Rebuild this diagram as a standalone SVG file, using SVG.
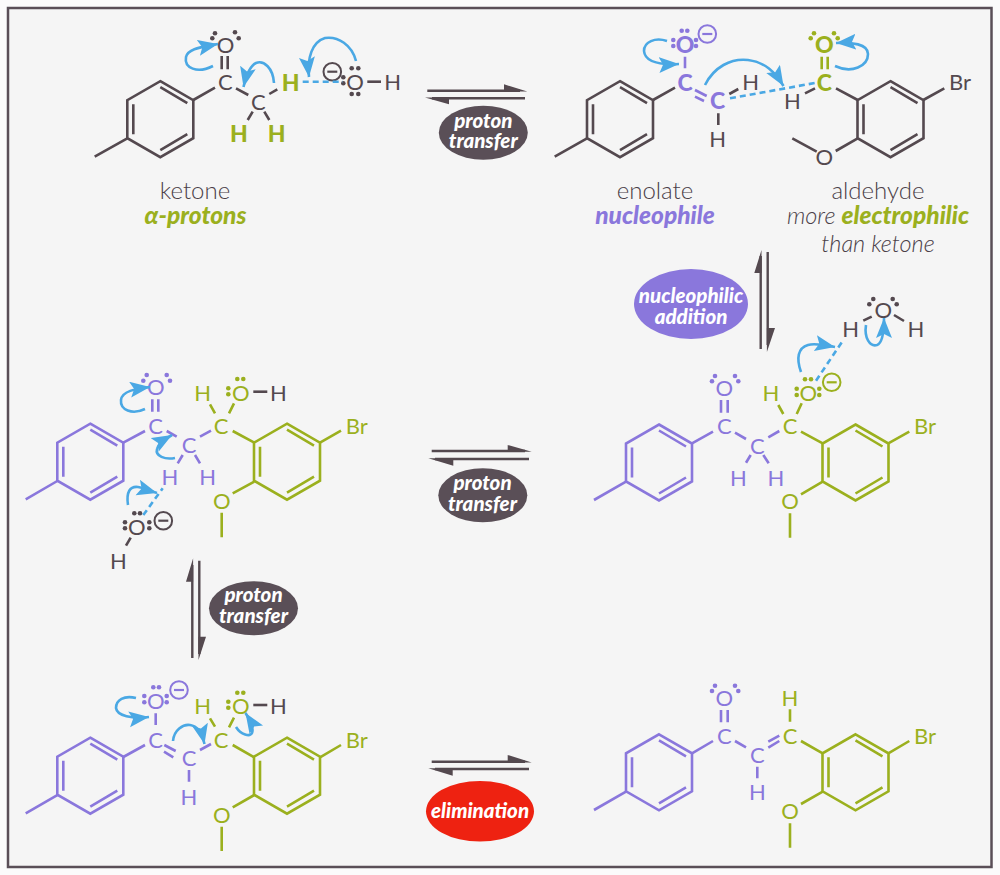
<svg xmlns="http://www.w3.org/2000/svg" xmlns:xlink="http://www.w3.org/1999/xlink" width="1000" height="875" viewBox="0 0 1000 875">
<style>
text{font-family:"Lato","Liberation Sans",sans-serif;text-anchor:middle}
.a{font-size:22px;font-weight:400;dominant-baseline:central}
.ab{font-size:23px;font-weight:900;dominant-baseline:central}
.d{fill:#54494f}.p{fill:#8a77dc}.g{fill:#9bb01e}
.sd{stroke:#54494f}.sp{stroke:#8a77dc}.sg{stroke:#9bb01e}
.b{fill:none;stroke-width:2.6;stroke-linecap:butt}
.curve{fill:none;stroke:#4aa8e4;stroke-width:2.6;marker-end:url(#head)}
.dash{fill:none;stroke:#4aa8e4;stroke-width:2.6;stroke-dasharray:6 4}
.lab{font-size:24px;font-weight:300;fill:#4a4048}
.it{font-size:23.5px;font-weight:300;font-style:italic;fill:#4a4048}
.hi{font-size:24.5px;font-weight:900;font-style:italic}
.bt{font-size:20.5px;font-weight:900;font-style:italic;fill:#fff}
.eq{fill:none;stroke:#54494f;stroke-width:2.4}
.eh{fill:#54494f;stroke:none}
</style>
<defs>
<marker id="head" markerUnits="userSpaceOnUse" markerWidth="22" markerHeight="18" refX="20" refY="8" orient="auto">
<path d="M0 0L20 8L0 16L4 8Z" fill="#4aa8e4"/>
</marker>
<g id="ring"><path d="M0-38L33-19V19L0 38L-33 19V-19Z M0-32L27-16 M-27-15V15 M0 31L27 15" fill="none" stroke-width="2.6"/></g>
<g id="minus"><circle r="8.8" fill="none" stroke-width="2"/><path d="M-5 0H5" stroke-width="2.2"/></g>
</defs>
<rect x="0" y="0" width="1000" height="875" fill="#fbfbfb"/>
<rect id="frame" x="8" y="8" width="983.5" height="859" fill="#f5f5f5" stroke="#5a4f57" stroke-width="2.5"/>

<g id="ketone">
<use xlink:href="#ring" x="160.3" y="119.2" class="sd"/>
<path class="b sd" d="M127.3 138.3L94.7 156.7M193.3 100L215 87.7M221.7 56V69.3M227.7 56V69.3M236 88.3L248.3 95M269.3 94L277.3 89.3M252.7 111.7L247.7 120M264.3 111.7L269.3 120"/>
<text class="a d" x="225.5" y="44">O</text><text class="a d" x="225.3" y="81.7">C</text><text class="a d" x="258.3" y="101">C</text>
<text class="ab g" x="290.7" y="81.7">H</text><text class="ab g" x="239" y="133.3">H</text><text class="ab g" x="276.7" y="133.3">H</text>
<g class="d"><circle cx="215" cy="33.3" r="2.3"/><circle cx="212.3" cy="38.3" r="2.3"/><circle cx="235" cy="32.3" r="2.3"/><circle cx="238.7" cy="38.3" r="2.3"/></g>
<text class="lab" x="195" y="199">ketone</text>
<text class="hi g" x="195.5" y="224">α-protons</text>
</g>
<g id="hydroxide-1">
<text class="a d" x="355" y="81.7">O</text><text class="a d" x="392.7" y="81.7">H</text>
<path class="b sd" d="M367.3 81.7H381"/>
<g class="d"><circle cx="351.7" cy="68.3" r="2.3"/><circle cx="358.3" cy="68.3" r="2.3"/><circle cx="343.3" cy="77.3" r="2.3"/><circle cx="343.3" cy="83.3" r="2.3"/><circle cx="351.7" cy="94" r="2.3"/><circle cx="358.3" cy="94" r="2.3"/></g>
<use xlink:href="#minus" x="332.3" y="71.7" class="sd"/>
</g>

<g id="enolate">
<use xlink:href="#ring" x="620" y="119.2" class="sd"/>
<path class="b sd" d="M587 138.3L554.7 156.7M653 100L675 87.7M729.3 94L738.3 89M718.3 113.3V125"/>
<path class="b sp" d="M685 56.7V68.3M695 90L706.7 96M695 96.7L704 101"/>
<text class="ab p" x="685" y="44">O</text><text class="ab p" x="685" y="81.7">C</text><text class="ab p" x="717.7" y="100">C</text>
<text class="a d" x="750.7" y="81.7">H</text><text class="a d" x="717.7" y="138.3">H</text>
<g class="p"><circle cx="681.7" cy="30.7" r="2.3"/><circle cx="687.3" cy="30.7" r="2.3"/><circle cx="673.3" cy="40" r="2.3"/><circle cx="673.3" cy="46" r="2.3"/><circle cx="696" cy="40" r="2.3"/><circle cx="696" cy="46" r="2.3"/></g>
<use xlink:href="#minus" x="707.3" y="34" class="sp"/>
<text class="lab" x="655" y="199">enolate</text>
<text class="hi p" x="655" y="224">nucleophile</text>
</g>
<g id="aldehyde">
<use xlink:href="#ring" x="890.5" y="119.2" class="sd"/>
<path class="b sd" d="M805 93.3L815 88.3M836 88.3L857.7 100M923.3 100L944.3 88.3M857.7 138.3L835.7 151M816.7 151.7L792.3 138.3"/>
<path class="b sg" d="M821.7 56.7V69.3M827.7 56.7V69.3"/>
<text class="ab g" x="824.3" y="44">O</text><text class="ab g" x="824.3" y="81.7">C</text>
<text class="a d" x="792.3" y="100.7">H</text><text class="a d" x="960" y="81.7">Br</text><text class="a d" x="824.3" y="156.7">O</text>
<g class="g"><circle cx="814" cy="33.3" r="2.3"/><circle cx="810.7" cy="38.3" r="2.3"/><circle cx="834" cy="33.3" r="2.3"/><circle cx="837.7" cy="38.3" r="2.3"/></g>
<text class="lab" x="878" y="199">aldehyde</text>
<text class="it" x="878" y="224">more <tspan class="hi g">electrophilic</tspan></text>
<text class="it" x="878" y="251.7">than ketone</text>
</g>

<g id="adduct-right">
<use xlink:href="#ring" x="659" y="462.5" class="sp"/>
<use xlink:href="#ring" x="855.5" y="462.5" class="sg"/>
<path class="b sp" d="M626 481.7L594 500M692 443.3L713 431.7M721 400V412.7M727.7 400V412.7M735 432.7L746 439M768.3 437.3L779.3 431M750.7 455L746 462.7M763.3 455L768.7 463.3"/>
<path class="b sg" d="M778.3 405L783.3 414M801.7 403.3L796.7 414M801 431.7L822.7 443.3M888.3 443.3L909.3 431.7M822.7 481.7L801 494.3M790 513.3V537.7"/>
<text class="a p" x="724.3" y="425.7">C</text><text class="a p" x="724.3" y="387.3">O</text><text class="a p" x="757.3" y="445">C</text><text class="a p" x="738.3" y="477.3">H</text><text class="a p" x="776" y="477.3">H</text>
<text class="a g" x="790" y="425.7">C</text><text class="a g" x="771" y="392.7">H</text><text class="a g" x="808.3" y="392.7">O</text><text class="a g" x="925" y="425.7">Br</text><text class="a g" x="790" y="500.7">O</text>
<g class="p"><circle cx="715" cy="376" r="2.3"/><circle cx="712" cy="381.3" r="2.3"/><circle cx="735" cy="376" r="2.3"/><circle cx="738.3" cy="381.3" r="2.3"/></g>
<g class="g"><circle cx="805" cy="379.3" r="2.3"/><circle cx="811" cy="379.3" r="2.3"/><circle cx="796.7" cy="388.7" r="2.3"/><circle cx="796.7" cy="395" r="2.3"/><circle cx="819.3" cy="388.7" r="2.3"/><circle cx="819.3" cy="395" r="2.3"/></g>
<use xlink:href="#minus" x="831.7" y="382.3" class="sg"/>
</g>
<g id="water">
<path class="b sd" d="M863.3 320.7L871.7 316.7M894 315L904 321"/>
<text class="a d" x="883.3" y="309.3">O</text><text class="a d" x="850.7" y="328.3">H</text><text class="a d" x="916" y="328.3">H</text>
<g class="d"><circle cx="873.3" cy="299" r="2.3"/><circle cx="869.3" cy="304.3" r="2.3"/><circle cx="892.7" cy="299" r="2.3"/><circle cx="896.7" cy="304.3" r="2.3"/></g>
</g>

<g id="adduct-left">
<use xlink:href="#ring" x="90.3" y="461.7" class="sp"/>
<use xlink:href="#ring" x="287" y="461.7" class="sg"/>
<path class="b sp" d="M57.3 481L25.7 499.3M123.3 442.7L145 431M152.3 399.3V411.7M158.3 399.3V411.7M166.7 431L176.7 436.7M200 436.7L211 430.7M182.7 455L177.7 463.3M195 455L200 463.3"/>
<path class="b sg" d="M210 404.3L215 413.3M234 403.3L229 413.3M232.7 431L254.3 442.7M320 442.7L341 430.7M254.3 481.7L232.7 493.3M221.7 512.7V537.3"/>
<path class="b sd" d="M253.3 391.7H267.3"/>
<text class="a p" x="155.7" y="425">C</text><text class="a p" x="155.7" y="386.7">O</text><text class="a p" x="189" y="444">C</text><text class="a p" x="170" y="476.7">H</text><text class="a p" x="207.7" y="476.7">H</text>
<text class="a g" x="221" y="425">C</text><text class="a g" x="202.7" y="392.3">H</text><text class="a g" x="240.7" y="392.3">O</text><text class="a g" x="356.7" y="425">Br</text><text class="a g" x="221.7" y="500">O</text>
<text class="a d" x="278.3" y="392.3">H</text>
<g class="p"><circle cx="146.7" cy="375" r="2.3"/><circle cx="143.3" cy="380.7" r="2.3"/><circle cx="166.7" cy="375" r="2.3"/><circle cx="170" cy="380.7" r="2.3"/></g>
<g class="g"><circle cx="237.3" cy="379" r="2.3"/><circle cx="243.3" cy="379" r="2.3"/><circle cx="228.3" cy="388.3" r="2.3"/><circle cx="228.3" cy="394.3" r="2.3"/></g>
</g>
<g id="hydroxide-2">
<path class="b sd" d="M130.7 537.7L126 545.7"/>
<text class="a d" x="136.7" y="526.7">O</text><text class="a d" x="118.3" y="560">H</text>
<g class="d"><circle cx="134.3" cy="513.3" r="2.3"/><circle cx="140" cy="513.3" r="2.3"/><circle cx="125" cy="522.3" r="2.3"/><circle cx="125" cy="528.3" r="2.3"/><circle cx="149.3" cy="522.3" r="2.3"/><circle cx="149.3" cy="528.3" r="2.3"/></g>
<use xlink:href="#minus" x="163.3" y="520.7" class="sd"/>
</g>

<g id="enolate-adduct">
<use xlink:href="#ring" x="90.3" y="775.7" class="sp"/>
<use xlink:href="#ring" x="287" y="775.7" class="sg"/>
<path class="b sp" d="M57.3 795L25.7 813.3M123.3 757L145 745M155.7 713.3V725M164.3 745L175.7 751M164 751.7L173.3 757.3M200 750L211 744M189 770V781.7"/>
<path class="b sg" d="M210 718.3L215 726.7M234 717.7L229 727.3M232.7 745L254.3 757.3M320 757.3L341 745M254.3 795L232.7 807.3M221.7 826.7V851"/>
<path class="b sd" d="M253.3 705H267.3"/>
<text class="a p" x="155.7" y="739">C</text><text class="a p" x="155.7" y="700.7">O</text><text class="a p" x="189" y="757.3">C</text><text class="a p" x="189" y="796">H</text>
<text class="a g" x="221" y="739">C</text><text class="a g" x="202.7" y="705.7">H</text><text class="a g" x="240.7" y="705.7">O</text><text class="a g" x="356.7" y="739">Br</text><text class="a g" x="221.7" y="814">O</text>
<text class="a d" x="278.3" y="705.7">H</text>
<g class="p"><circle cx="153.3" cy="687.3" r="2.3"/><circle cx="159" cy="687.3" r="2.3"/><circle cx="144.3" cy="696" r="2.3"/><circle cx="144.3" cy="702.3" r="2.3"/><circle cx="166.7" cy="696" r="2.3"/><circle cx="166.7" cy="702.3" r="2.3"/></g>
<g class="g"><circle cx="237.3" cy="692.7" r="2.3"/><circle cx="243.3" cy="692.7" r="2.3"/><circle cx="228.3" cy="701.7" r="2.3"/><circle cx="228.3" cy="707.7" r="2.3"/></g>
<use xlink:href="#minus" x="179" y="690" class="sp"/>
</g>

<g id="enone">
<use xlink:href="#ring" x="659" y="772.3" class="sp"/>
<use xlink:href="#ring" x="855.5" y="772.3" class="sg"/>
<path class="b sp" d="M626 791.7L594 810M692 753.3L713 741M721 710V722.3M727.7 710V722.3M735 741L746 747.3M768.3 741.7L779.3 735.7M768.3 747.7L779.3 741M757.3 766.7V778.3"/>
<path class="b sg" d="M790 709.3V721.7M801 741L822.7 753.3M888.3 753.3L909.3 741M822.7 791.7L801 804M790 823.3V847.7"/>
<text class="a p" x="724.3" y="735.7">C</text><text class="a p" x="724.3" y="697.3">O</text><text class="a p" x="757.3" y="754">C</text><text class="a p" x="757.3" y="791.7">H</text>
<text class="a g" x="790" y="735">C</text><text class="a g" x="790" y="697.3">H</text><text class="a g" x="925" y="735">Br</text><text class="a g" x="790" y="810">O</text>
<g class="p"><circle cx="715" cy="685.7" r="2.3"/><circle cx="712" cy="691" r="2.3"/><circle cx="735" cy="685.7" r="2.3"/><circle cx="738.3" cy="691" r="2.3"/></g>
</g>

<g id="badge-proton-1"><ellipse cx="483.3" cy="132.7" rx="44.5" ry="27" fill="#5a4f57"/><text class="bt" x="483.3" y="128.3">proton</text><text class="bt" x="483.3" y="148">transfer</text></g>
<g id="badge-nucleophilic"><ellipse cx="691" cy="304" rx="57" ry="35" fill="#8a77dc"/><text class="bt" x="691" y="303">nucleophilic</text><text class="bt" x="691" y="324">addition</text></g>
<g id="badge-proton-2"><ellipse cx="482.8" cy="495.3" rx="44.5" ry="27" fill="#5a4f57"/><text class="bt" x="482.5" y="490">proton</text><text class="bt" x="482.5" y="511">transfer</text></g>
<g id="badge-proton-3"><ellipse cx="253.5" cy="608.3" rx="44.5" ry="27" fill="#5a4f57"/><text class="bt" x="253.5" y="602.3">proton</text><text class="bt" x="253.5" y="622.7">transfer</text></g>
<g id="badge-elimination"><ellipse cx="480" cy="811.3" rx="54" ry="30.3" fill="#ee2211"/><text class="bt" x="480" y="818">elimination</text></g>

<g id="connectors">
<path class="eq" d="M427.3 90.7H520M525 98.3H432"/><path class="eh" d="M527.3 91.5L504 84.3V91.5ZM425 97.5L449 104.3V97.5Z"/>
<path class="eq" d="M431.7 451H525M529 459H435"/><path class="eh" d="M531.7 451.8L507.7 445V451.8ZM428.3 458.2L453.3 465.7V458.2Z"/>
<path class="eq" d="M431.7 761.7H525M529 769H435"/><path class="eh" d="M531.7 762.5L507.7 755V762.5ZM428.3 768.2L452.7 775.7V768.2Z"/>
<path class="eq" d="M760.7 349V256M767.7 252V345"/><path class="eh" d="M761.5 250L754.3 273H761.5ZM766.9 352L775 328H766.9Z"/>
<path class="eq" d="M192.3 658V565M199.3 560.7V654"/><path class="eh" d="M193.1 558.3L186 581.7H193.1ZM198.5 660L206 636.7H198.5Z"/>
<path class="dash" d="M302.7 81.7H343"/>
<path class="dash" d="M730 98.3L816.7 82.7"/>
<path class="dash" d="M816 380.7L843.3 340"/>
<path class="dash" d="M143.3 515L162.7 488.3"/>
<path class="curve" d="M213 66C197 74 184 68 186 57C188 48 203 47 218 44"/>
<path class="curve" d="M274 83C273 68 264 60 256 63C250 66 246 76 243.5 87"/>
<path class="curve" d="M356 61C352 45 338 36 325 38C312 42 307 58 309 77"/>
<path class="curve" d="M667 41C655 37 644 42 644 51C645 62 660 65 679 64"/>
<path class="curve" d="M705 85C714 67 731 58 748 60C765 62 775 72 783.5 86"/>
<path class="curve" d="M835 66C852 74 868 66 868 54C868 44 852 42 836 43"/>
<path class="curve" d="M801 372C796 358 798 348 808 345C815 343 825 345 835 347"/>
<path class="curve" d="M866 325C864 338 870 347 877 345C883 343 884 330 884 318"/>
<path class="curve" d="M145 409C132 415 120 410 121 400C122 391 135 389 150 387"/>
<path class="curve" d="M175 458C165 460 155 456 157 449C158 444 165 439 172 435"/>
<path class="curve" d="M128 505C126 492 130 486 138 487C145 488 150 491 157 493"/>
<path class="curve" d="M136 698C124 695 116 700 116 708C117 716 132 719 149 717"/>
<path class="curve" d="M173 741C174 730 183 724 190 725C197 726 202 733 204.5 744"/>
<path class="curve" d="M236 727C241 735 250 737 252 733C254 728 250 720 245.5 713"/>
</g>
</svg>
